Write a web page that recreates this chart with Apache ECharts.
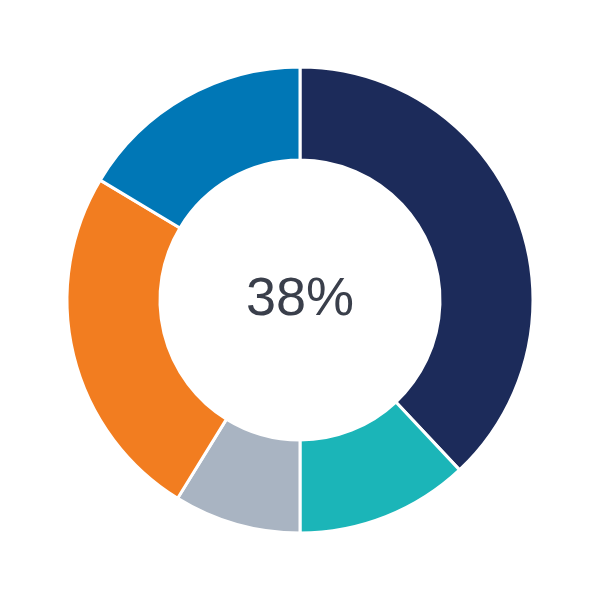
<!DOCTYPE html>
<html>
<head>
<meta charset="utf-8">
<script src="https://cdn.jsdelivr.net/npm/echarts@6/dist/echarts.min.js"></script>
<style>html,body{margin:0;padding:0;background:#fff}#c{width:600px;height:600px}</style>
</head>
<body>
<div id="c"></div>
<script>
const categories = ['A', 'B', 'C', 'D', 'E'];
const values = [38, 12, 8.8, 24.8, 16.4];
const colors = ['#1c2b5a', '#1bb5b8', '#a9b4c2', '#f27d20', '#0077b6'];
const centerLabel = '38%';

const chart = echarts.init(document.getElementById('c'));
chart.setOption({
  animation: false,
  title: {
    text: centerLabel,
    left: 'center',
    top: 'middle',
    textStyle: { fontFamily: 'Liberation Sans, Arial, sans-serif', fontSize: 54, fontWeight: 'normal', color: '#3a3f4b' }
  },
  series: [{
    type: 'pie',
    center: [300, 300],
    radius: [140, 233],
    startAngle: 90,
    clockwise: true,
    label: { show: false },
    labelLine: { show: false },
    itemStyle: { borderColor: '#fff', borderWidth: 3 },
    data: categories.map((c, i) => ({ name: c, value: values[i], itemStyle: { color: colors[i] } }))
  }]
});
</script>
</body>
</html>
